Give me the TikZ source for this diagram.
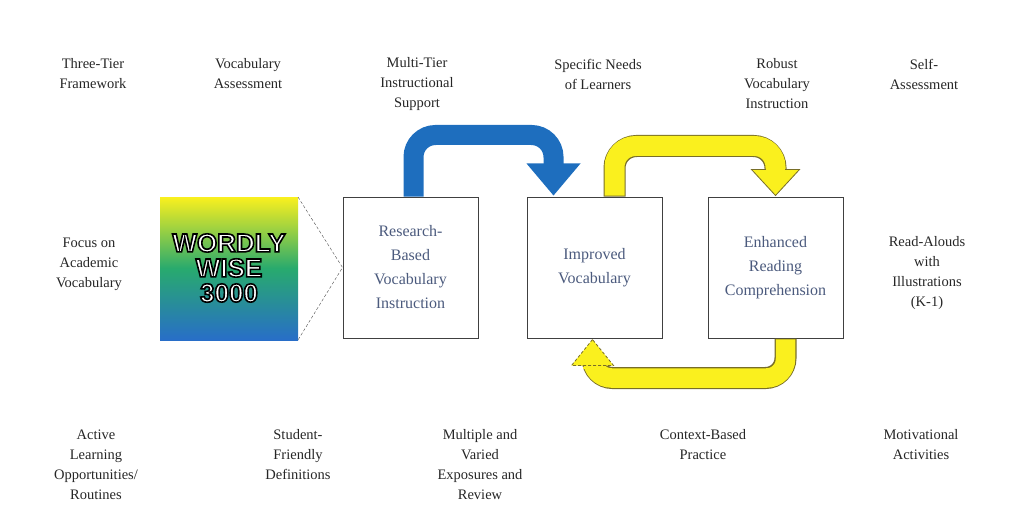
\documentclass[tikz,border=0pt]{standalone}
\usepackage{fontspec}
\setmainfont{Liberation Serif}
\newfontfamily\logofont{Liberation Sans}
\usetikzlibrary{calc}
\definecolor{bluearr}{RGB}{30,110,190}
\definecolor{yel}{RGB}{250,240,30}
\definecolor{yedge}{RGB}{120,110,40}
\definecolor{boxtxt}{RGB}{75,90,125}
\definecolor{lgreen}{RGB}{40,170,110}
\definecolor{lblue}{RGB}{40,110,200}
\begin{document}
\begin{tikzpicture}[x=1pt,y=-1pt,
  lbl/.style={align=center,font=\fontsize{14.5}{20}\selectfont,text=black!85},
  box/.style={draw=black!75,line width=1pt,minimum width=135pt,minimum height=141pt,align=center,font=\fontsize{16}{24}\selectfont,text=boxtxt},
  ytip/.style={fill=yel,draw=yedge,line width=0.8pt}]
\useasboundingbox (0,0) rectangle (1024,513);
% labels
\node[lbl] (l1) at (93,74) {Three-Tier\\Framework};
\node[lbl] (l2) at (248,74) {Vocabulary\\Assessment};
\node[lbl] (l3) at (417,84) {Multi-Tier\\Instructional\\Support};
\node[lbl] (l4) at (598,74) {Specific Needs\\of Learners};
\node[lbl] (l5) at (777,84) {Robust\\Vocabulary\\Instruction};
\node[lbl] (l6) at (924,74) {Self-\\Assessment};
\node[lbl] (l7) at (89,264) {Focus on\\Academic\\Vocabulary};
\node[lbl] (l8) at (927,273) {Read-Alouds\\with\\Illustrations\\(K-1)};
\node[lbl] (l9) at (96,465) {Active\\Learning\\Opportunities/\\Routines};
\node[lbl] (l10) at (298,455) {Student-\\Friendly\\Definitions};
\node[lbl] (l11) at (480,465) {Multiple and\\Varied\\Exposures and\\Review};
\node[lbl] (l12) at (703,445) {Context-Based\\Practice};
\node[lbl] (l13) at (921,445) {Motivational\\Activities};
% logo
\shade[top color=yel, bottom color=lblue, middle color=lgreen] (160,197) rectangle (298,340);
\node[align=center,font=\logofont\bfseries\fontsize{26}{25}\selectfont,text=white] (logo) at (229,268)
  {\special{pdf:literal direct 2 Tr 0 G 1.6 w}WORDLY\\\special{pdf:literal direct 2 Tr 0 G 1.6 w}WISE\\\special{pdf:literal direct 2 Tr 0 G 1.6 w}3000\special{pdf:literal direct 0 Tr}};
\coordinate (lt) at (298,197);
\coordinate (lb) at (298,340);
% boxes
\node[box] (b1) at (410.5,267.5) {Research-\\Based\\Vocabulary\\Instruction};
\node[box] (b2) at (594.5,267.5) {Improved\\Vocabulary};
\node[box] (b3) at (775.5,267.5) {Enhanced\\Reading\\Comprehension};
\draw[densely dashed,black!70] (lt) -- (b1.west) -- (lb);
% blue arrow
\coordinate (bs) at ($(b1.north)+(3,0)$);
\coordinate (bt) at ($(b2.north)+(-41,-1)$);
\draw[bluearr,line width=20pt,rounded corners=22pt] (bs) -- (bs|-0,135) -- (bt|-0,135) -- ($(bt)+(0,-30)$);
\fill[bluearr] (bt) -- ++(-27,-32) -- ++(54,0) -- cycle;
% yellow top arrow
\coordinate (ys) at ($(b2.north)+(20,0)$);
\coordinate (yt) at ($(b3.north)+(0,-1)$);
\draw[yedge,line width=22pt,rounded corners=22pt] (ys) -- (ys|-0,146) -- (yt|-0,146) -- ($(yt)+(0,-24)$);
\draw[yel,line width=20pt,rounded corners=21pt] ($(ys)+(0,-0.8)$) -- (ys|-0,146) -- (yt|-0,146) -- ($(yt)+(0,-24)$);
\draw[ytip] (yt) -- ++(-24,-26) -- ++(48,0) -- cycle;
\fill[yel] ($(yt)+(-9.2,-27)$) rectangle ($(yt)+(9.2,-25.5)$);
% yellow bottom arrow
\coordinate (ws) at ($(b3.south)+(10,0)$);
\coordinate (wt) at ($(b2.south)+(-2,1)$);
\draw[yedge,line width=22pt,rounded corners=20pt] (ws) -- (ws|-0,378) -- (wt|-0,378) -- ($(wt)+(0,26)$);
\draw[yel,line width=19.5pt,rounded corners=19pt] ($(ws)+(0,0.8)$) -- (ws|-0,378) -- (wt|-0,378) -- ($(wt)+(0,26)$);
\draw[ytip,densely dashed] (wt) -- ++(-21,26) -- ++(42,0) -- cycle;
\fill[yel] ($(wt)+(-9.2,27.5)$) rectangle ($(wt)+(9.2,29)$);
\end{tikzpicture}
\end{document}
